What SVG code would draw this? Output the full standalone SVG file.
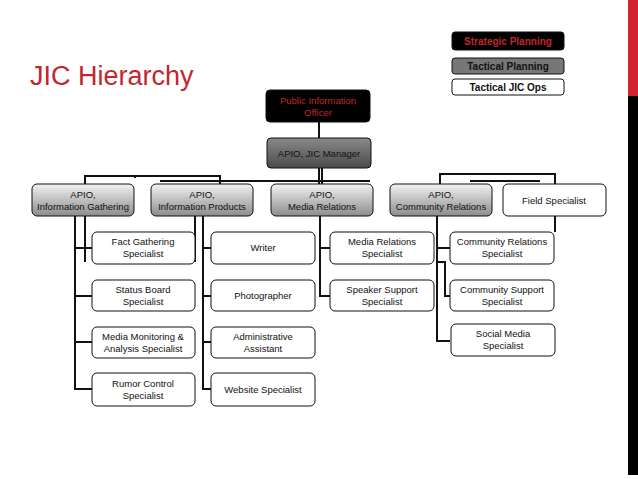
<svg xmlns="http://www.w3.org/2000/svg" width="638" height="479" viewBox="0 0 638 479">
<defs>
<linearGradient id="g2" x1="0" y1="0" x2="0" y2="1"><stop offset="0" stop-color="#f2f2f2"/><stop offset="1" stop-color="#8c8c8c"/></linearGradient>
<linearGradient id="g1" x1="0" y1="0" x2="0" y2="1"><stop offset="0" stop-color="#8a8a8a"/><stop offset="1" stop-color="#4a4a4a"/></linearGradient>
</defs>
<style>
text{font-family:"Liberation Sans",Arial,sans-serif;font-size:9.5px;text-anchor:middle;fill:#111}
.b{stroke:#111;stroke-width:1;fill:#fff}
.l{stroke:#111;stroke-width:2;fill:none}
.lg{font-weight:bold;font-size:10px}
</style>
<rect width="638" height="479" fill="#fff"/>
<rect x="628" y="0" width="10" height="96" fill="#d3232e"/>
<rect x="628" y="96" width="10" height="379" fill="#000"/>
<text x="30" y="85" style="font-size:27px;fill:#c1272d;text-anchor:start">JIC Hierarchy</text>
<g id="legend">
<rect x="452" y="32" width="112" height="18" rx="3" fill="#000" stroke="#111"/>
<text x="508" y="45" class="lg" style="fill:#c1272d">Strategic Planning</text>
<rect x="452" y="58" width="112" height="16" rx="3" fill="#777" stroke="#111"/>
<text x="508" y="70" class="lg">Tactical Planning</text>
<rect x="452" y="79" width="112" height="16" rx="3" class="b"/>
<text x="508" y="91" class="lg">Tactical JIC Ops</text>
</g>
<g id="connectors">
<path class="l" d="M319 122V138M319 168V184M85 184V176H220V184M135 176V178M160 181H370M440 184V174H555V184M470 181H540M322 168V216"/>
<path class="l" d="M75 216V389H92M75 248H92M75 296H92M75 342H92M85 216V262"/>
<path class="l" d="M203 216V389H211M203 248H211M203 296H211M203 342H211M195 216V262"/>
<path class="l" d="M320 216V296H330M320 248H330"/>
<path class="l" d="M437 216V341H450M437 248H450M437 262H445V296H450M555 216V232"/>
</g>
<g id="pio"><rect x="266" y="90" width="104" height="32" rx="4" fill="#000" stroke="#111"/><text x="318" y="104" style="fill:#c1272d">Public Information</text><text x="318" y="116" style="fill:#c1272d">Officer</text></g>
<g id="mgr"><rect x="267" y="138" width="104" height="30" rx="4" fill="url(#g1)" stroke="#111"/><text x="319" y="157">APIO, JIC Manager</text></g>
<g id="ig"><rect x="32" y="184" width="102" height="32" rx="5" fill="url(#g2)" stroke="#111"/><text x="83" y="198">APIO,</text><text x="83" y="210">Information Gathering</text></g>
<g id="ip"><rect x="151" y="184" width="102" height="32" rx="5" fill="url(#g2)" stroke="#111"/><text x="202" y="198">APIO,</text><text x="202" y="210">Information Products</text></g>
<g id="mr"><rect x="271" y="184" width="102" height="32" rx="5" fill="url(#g2)" stroke="#111"/><text x="322" y="198">APIO,</text><text x="322" y="210">Media Relations</text></g>
<g id="cr"><rect x="390" y="184" width="102" height="32" rx="5" fill="url(#g2)" stroke="#111"/><text x="441" y="198">APIO,</text><text x="441" y="210">Community Relations</text></g>
<g id="field"><rect x="503" y="184" width="103" height="32" rx="5" class="b"/><text x="554" y="204">Field Specialist</text></g>
<g id="fact"><rect x="92" y="232" width="103" height="32" rx="5" class="b"/><text x="143" y="245">Fact Gathering</text><text x="143" y="257">Specialist</text></g>
<g id="status"><rect x="92" y="280" width="103" height="31" rx="5" class="b"/><text x="143" y="293">Status Board</text><text x="143" y="305">Specialist</text></g>
<g id="mon"><rect x="92" y="327" width="103" height="31" rx="5" class="b"/><text x="143" y="340">Media Monitoring &amp;</text><text x="143" y="352">Analysis Specialist</text></g>
<g id="rumor"><rect x="92" y="373" width="103" height="33" rx="5" class="b"/><text x="143" y="387">Rumor Control</text><text x="143" y="399">Specialist</text></g>
<g id="writer"><rect x="211" y="232" width="104" height="32" rx="5" class="b"/><text x="263" y="251">Writer</text></g>
<g id="photo"><rect x="211" y="280" width="104" height="31" rx="5" class="b"/><text x="263" y="299">Photographer</text></g>
<g id="admin"><rect x="211" y="327" width="104" height="31" rx="5" class="b"/><text x="263" y="340">Administrative</text><text x="263" y="352">Assistant</text></g>
<g id="web"><rect x="211" y="373" width="104" height="33" rx="5" class="b"/><text x="263" y="393">Website Specialist</text></g>
<g id="mrs"><rect x="330" y="232" width="104" height="32" rx="5" class="b"/><text x="382" y="245">Media Relations</text><text x="382" y="257">Specialist</text></g>
<g id="speak"><rect x="330" y="280" width="104" height="31" rx="5" class="b"/><text x="382" y="293">Speaker Support</text><text x="382" y="305">Specialist</text></g>
<g id="crs"><rect x="450" y="232" width="104" height="32" rx="5" class="b"/><text x="502" y="245">Community Relations</text><text x="502" y="257">Specialist</text></g>
<g id="css"><rect x="450" y="280" width="104" height="31" rx="5" class="b"/><text x="502" y="293">Community Support</text><text x="502" y="305">Specialist</text></g>
<g id="social"><rect x="451" y="324" width="104" height="32" rx="5" class="b"/><text x="503" y="337">Social Media</text><text x="503" y="349">Specialist</text></g>
</svg>
